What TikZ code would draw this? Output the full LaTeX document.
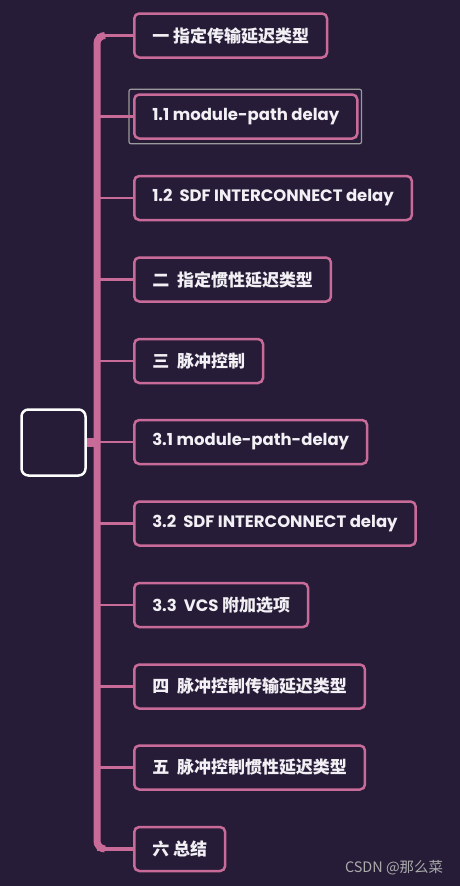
\documentclass[tikz,border=0pt]{standalone}
\usepackage{fontspec}
\setmainfont{Poppins}
\newfontfamily\cjk{Noto Sans CJK SC}[Scale=1.03]
\usepackage{xcolor}
\usepackage{tikz}
\usetikzlibrary{positioning,calc}

\definecolor{bgpurple}{HTML}{261C38}
\definecolor{rosepink}{HTML}{C86B98}
\definecolor{selgray}{HTML}{9A9A9A}
\definecolor{markgray}{HTML}{ABABAB}
\definecolor{topictext}{HTML}{F2F0F4}

\begin{document}
\begin{tikzpicture}[x=1pt,y=-1pt,
  topic/.style={draw=rosepink,line width=2.5pt,rounded corners=5pt,fill=bgpurple,
    text=topictext,font=\bfseries\fontsize{16.5}{19}\selectfont,
    inner xsep=18pt,minimum height=44pt,anchor=west},
  rootbox/.style={draw=white,line width=2.5pt,rounded corners=7pt,
    minimum width=64pt,minimum height=66pt},
  branch/.style={draw=rosepink,line width=2.5pt},
  trunk/.style={draw=rosepink,line width=7pt}]
  \useasboundingbox[fill=bgpurple] (0,0) rectangle (460,886);
  % root and trunk line
  \node[rootbox] (root) at (53.5,442.5) {};
  \coordinate (trunk) at (97,442);
  % topics
  \node[topic] (s1) at (133,35.5) {\cjk 一 指定传输延迟类型};
  \node[topic] (s2) at (133,116.5) {1.1 module-path delay};
  \node[topic] (s3) at (133,198) {1.2\ \ SDF INTERCONNECT delay};
  \node[topic] (s4) at (133,279.5) {\cjk 二\ \ 指定惯性延迟类型};
  \node[topic] (s5) at (133,361) {\cjk 三\ \ 脉冲控制};
  \node[topic] (s6) at (133,442) {3.1 module-path-delay};
  \node[topic] (s7) at (133,523.5) {3.2\ \ SDF INTERCONNECT delay};
  \node[topic] (s8) at (133,605) {3.3\ \ VCS {\cjk 附加选项}};
  \node[topic] (s9) at (133,686.5) {\cjk 四\ \ 脉冲控制传输延迟类型};
  \node[topic] (s10) at (133,767.5) {\cjk 五\ \ 脉冲控制惯性延迟类型};
  \node[topic] (s11) at (133,849) {\cjk 六 总结};
  % selection frame
  \draw[selgray,line width=1.2pt,rounded corners=2pt]
    ([xshift=-4pt,yshift=4pt]s2.north west) rectangle ([xshift=3pt,yshift=-4pt]s2.south east);
  \foreach \s in {s1,s2,s3,s4,s5,s6,s7,s8,s9,s10} {
    \draw[branch] (\s.west -| trunk) -- (\s.west);
  }
  \draw[branch,line width=3.5pt] (s11.west -| trunk) -- (s11.west);
  \draw[trunk,rounded corners=8pt] ([xshift=8pt]s1.west -| trunk) -- (s1.west -| trunk)
    -- (s11.west -| trunk) -- ([xshift=8pt]s11.west -| trunk);
  \draw[trunk,line width=9pt] (root.east) -- (root.east -| trunk);
  % watermark
  \node[markgray,font=\cjk\fontsize{14}{17}\selectfont] (credit) at (394,868) {CSDN @那么菜};
\end{tikzpicture}
\end{document}
